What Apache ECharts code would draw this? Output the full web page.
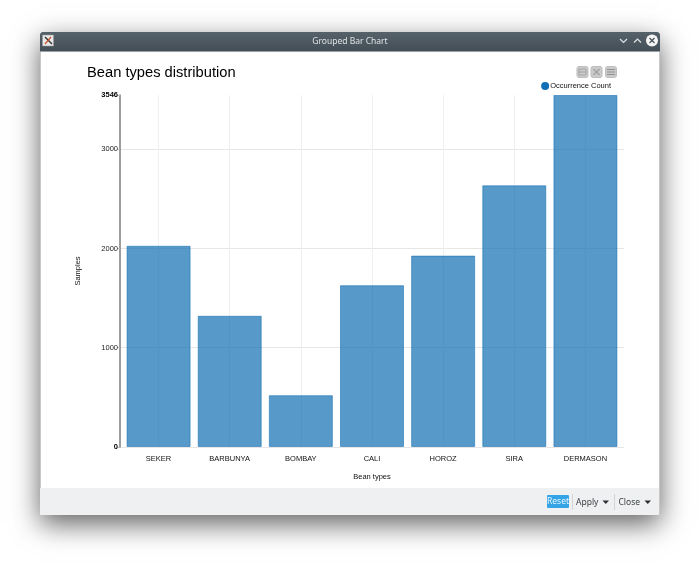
<!DOCTYPE html>
<html><head><meta charset="utf-8">
<style>html,body{margin:0;padding:0;background:#fff}#c{width:700px;height:562px}</style>
<script src="https://cdn.jsdelivr.net/npm/echarts@6/dist/echarts.min.js"></script>
</head><body><div id="c"></div>
<script>
const categories = ['SEKER','BARBUNYA','BOMBAY','CALI','HOROZ','SIRA','DERMASON'];
const occurrenceCount = [2027,1322,522,1630,1928,2636,3546];
const yMax = 3546;
const chartTitle = 'Bean types distribution';
const seriesName = 'Occurrence Count';
const font = '"Liberation Sans", Arial, sans-serif';
const uiFont = '"Noto Sans", "Open Sans", sans-serif';
const chart = echarts.init(document.getElementById('c'), null, {renderer:'canvas'});

function rect(x,y,w,h,style,extra){return Object.assign({type:'rect',shape:{x,y,width:w,height:h},style,z:-10,silent:true},extra||{});}
function txt(x,y,text,size,fill,align,f){return {type:'text',x,y,z:50,silent:true,style:{text,font:size+'px '+(f||uiFont),fill,align:align||'left',verticalAlign:'middle'}};}
function ln(x1,y1,x2,y2,stroke,w){return {type:'line',z:51,silent:true,shape:{x1,y1,x2,y2},style:{stroke,lineWidth:w||1}};}

const btnStyle = {fill:'#cbcbcb',stroke:'#bdbdbd',lineWidth:1};
const chrome = [
  rect(40,32,620,483,{fill:'#fff',shadowBlur:26,shadowColor:'rgba(0,0,0,0.62)',shadowOffsetY:9}),
  {type:'rect',z:-9,silent:true,shape:{x:40,y:32,width:620,height:19,r:[3,3,0,0]},
    style:{fill:new echarts.graphic.LinearGradient(0,0,0,1,[{offset:0,color:'#56626a'},{offset:1,color:'#434e56'}])}},
  rect(40,51,620,1,{fill:'#9aa0a4'},{z:-9}),
  rect(40,488,620,27,{fill:'#eff0f1'},{z:-9}),
  rect(40,52,1,436,{fill:'#c9c9c9'},{z:-9}),
  rect(659,52,1,463,{fill:'#c9c9c9'},{z:-9}),
  rect(42.5,35,11,11,{fill:'#e8e8e8',stroke:'#999',lineWidth:0.5},{z:40}),
  ln(45,37,52,44,'#333',1.4), ln(51,37,45,44,'#c8502a',1.2),
  txt(350,41.5,'Grouped Bar Chart',8.5,'#dfe3e5','center'),
  {type:'polyline',z:50,silent:true,shape:{points:[[620,39],[623.5,42.5],[627,39]]},style:{stroke:'#dfe3e5',fill:null,lineWidth:1.2}},
  {type:'polyline',z:50,silent:true,shape:{points:[[634,42.5],[637.5,39],[641,42.5]]},style:{stroke:'#dfe3e5',fill:null,lineWidth:1.2}},
  {type:'circle',z:50,silent:true,shape:{cx:652,cy:40.5,r:6},style:{fill:'#f4f5f5'}},
  ln(649.5,38,654.5,43,'#47525a',1.2), ln(654.5,38,649.5,43,'#47525a',1.2),
  {type:'rect',z:50,silent:true,shape:{x:577,y:66.5,width:11,height:11,r:2},style:btnStyle},
  ln(579,72,586,72,'#a4a4a4'), {type:'rect',z:51,silent:true,shape:{x:579,y:69,width:7,height:6},style:{fill:null,stroke:'#a4a4a4',lineWidth:1}},
  {type:'rect',z:50,silent:true,shape:{x:591,y:66.5,width:11,height:11,r:2},style:btnStyle},
  ln(593.5,69,599.5,75,'#a4a4a4',1.6), ln(599.5,69,593.5,75,'#a4a4a4',1.6),
  {type:'rect',z:50,silent:true,shape:{x:605.5,y:66.5,width:11,height:11,r:2},style:btnStyle},
  ln(607,69.5,615,69.5,'#8f8f8f'), ln(607,72,615,72,'#8f8f8f'), ln(607,74.5,615,74.5,'#8f8f8f'),
  {type:'rect',z:50,silent:true,shape:{x:547,y:495,width:22,height:13,r:1},style:{fill:'#35a4e6'}},
  txt(558,502,'Reset',8.5,'#e8f5fd','center'),
  ln(572.5,494,572.5,510,'#d3d4d5'),
  txt(576,502.5,'Apply',8.5,'#3c4145'),
  {type:'polygon',z:50,silent:true,shape:{points:[[602.5,500.5],[609,500.5],[605.75,504]]},style:{fill:'#2b2f33'}},
  ln(614.5,494,614.5,510,'#d3d4d5'),
  txt(618.5,502.5,'Close',8.5,'#3c4145'),
  {type:'polygon',z:50,silent:true,shape:{points:[[644.5,500.5],[651,500.5],[647.75,504]]},style:{fill:'#2b2f33'}}
];

chart.setOption({
  animation:false,
  backgroundColor:'#fff',
  textStyle:{fontFamily:font},
  title:{text:chartTitle,left:87,top:65,padding:0,textStyle:{fontFamily:font,fontSize:14.7,fontWeight:'normal',color:'#000'}},
  legend:{show:true,right:89,top:82,padding:0,itemWidth:8,itemHeight:8,itemGap:0,icon:'circle',
    data:[{name:seriesName,icon:'circle',itemStyle:{color:'#0f6fb5',borderWidth:0,opacity:1}}],
    textStyle:{fontFamily:font,fontSize:7.5,color:'#111',padding:[0,0,0,-4]}},
  grid:[
    {left:120,right:76,top:95,bottom:115,containLabel:false},
    {left:123,right:79,top:95,bottom:115,containLabel:false}
  ],
  xAxis:[
    {gridIndex:0,type:'value',min:0,max:1,show:false},
    {gridIndex:1,type:'category',data:categories,
      axisLine:{show:false},axisTick:{show:false},
      splitLine:{show:true,alignWithLabel:true,lineStyle:{color:'#efefef',width:1}},
      axisLabel:{fontFamily:font,fontSize:7.5,color:'#111',margin:8,interval:0},
      name:'Bean types',nameLocation:'middle',nameGap:26,
      nameTextStyle:{fontFamily:font,fontSize:7.5,color:'#111'}}
  ],
  yAxis:[
    {gridIndex:0,type:'value',min:0,max:yMax,interval:1000,
      axisLine:{show:true,onZero:false,lineStyle:{color:'#7d7d7d',width:1.5}},
      axisTick:{show:true,length:3,lineStyle:{color:'#bbb'}},
      splitLine:{show:true,showMaxLine:false,lineStyle:{color:'#e6e6e6',width:1}},
      axisLabel:{fontFamily:font,fontSize:7.5,color:'#222',margin:2,showMinLabel:true,showMaxLabel:true,
        formatter:v=>(v===0||v===yMax)?'{b|'+v+'}':String(v),
        rich:{b:{fontFamily:font,fontSize:7.5,fontWeight:'bold',color:'#000'}}},
      name:'Samples',nameLocation:'middle',nameGap:38,nameRotate:90,
      nameTextStyle:{fontFamily:font,fontSize:7.5,color:'#111'}},
    {gridIndex:1,type:'value',min:0,max:yMax,show:false}
  ],
  series:[{
    name:seriesName,type:'bar',xAxisIndex:1,yAxisIndex:1,data:occurrenceCount,barWidth:64,
    itemStyle:{color:'rgba(16,110,176,0.70)',borderColor:'rgba(16,110,176,0.55)',borderWidth:1},
    z:5
  }],
  color:['#0f6fb5'],
  graphic:{elements:chrome}
});
</script></body></html>
